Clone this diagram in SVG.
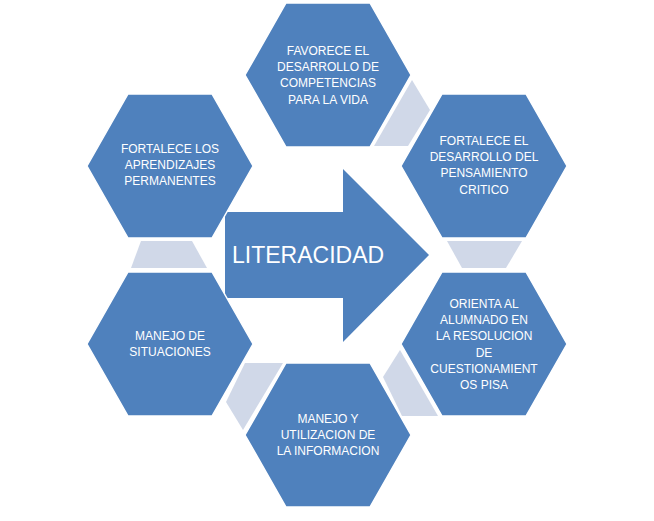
<svg xmlns="http://www.w3.org/2000/svg" width="654" height="521" viewBox="0 0 654 521">
<style>
.hex{fill:#4F81BD;stroke:#fff;stroke-width:1.5}
.gap{fill:#D0D8E8}
text{font-family:"Liberation Sans",Arial,sans-serif;font-size:12px;fill:#fff;text-anchor:middle}
</style>
<defs><polygon id="h" points="-83,0 -42,-72 42,-72 83,0 42,72 -42,72"/></defs>
<rect width="654" height="521" fill="#fff"/>
<g id="connectors">
<polygon class="gap" points="141,241 192,241 207,268 131,268"/>
<polygon class="gap" points="447,241 522,241 506,268 462,268"/>
<polygon class="gap" points="412,80 430,110 408,146 374,146"/>
<polygon class="gap" points="245,363 283,363 243,430 226,402"/>
<polygon class="gap" points="400,350 438,416 402,416 383,377"/>
</g>
<g id="arrow">
<polygon fill="#4F81BD" points="225,212 343,212 343,169 429,255 343,342 343,298 225,298"/>
<text x="232" y="263" style="font-size:23px;text-anchor:start">LITERACIDAD</text>
</g>
<g id="n1"><use href="#h" class="hex" x="328" y="75"/>
<text x="328" y="55">FAVORECE EL</text><text x="328" y="71">DESARROLLO DE</text><text x="328" y="87">COMPETENCIAS</text><text x="328" y="104">PARA LA VIDA</text></g>
<g id="n2"><use href="#h" class="hex" x="484" y="166"/>
<text x="484" y="145">FORTALECE EL</text><text x="484" y="161">DESARROLLO DEL</text><text x="484" y="177">PENSAMIENTO</text><text x="484" y="194">CRITICO</text></g>
<g id="n3"><use href="#h" class="hex" x="484" y="344"/>
<text x="484" y="308">ORIENTA AL</text><text x="484" y="324">ALUMNADO EN</text><text x="484" y="340">LA RESOLUCION</text><text x="484" y="357">DE</text><text x="484" y="373">CUESTIONAMIENT</text><text x="484" y="389">OS PISA</text></g>
<g id="n4"><use href="#h" class="hex" x="328" y="435"/>
<text x="328" y="423">MANEJO Y</text><text x="328" y="439">UTILIZACION DE</text><text x="328" y="455">LA INFORMACION</text></g>
<g id="n5"><use href="#h" class="hex" x="170" y="344"/>
<text x="170" y="340">MANEJO DE</text><text x="170" y="356">SITUACIONES</text></g>
<g id="n6"><use href="#h" class="hex" x="170" y="166"/>
<text x="170" y="153">FORTALECE LOS</text><text x="170" y="169">APRENDIZAJES</text><text x="170" y="185">PERMANENTES</text></g>
</svg>
